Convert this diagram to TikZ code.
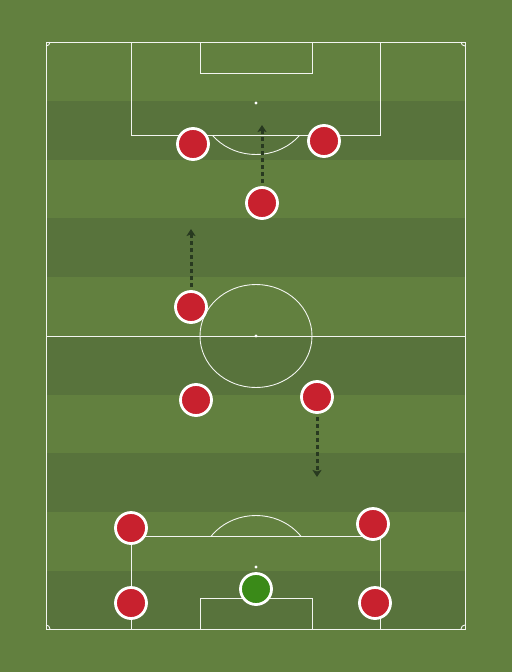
\documentclass[tikz,border=0pt]{standalone}
\usetikzlibrary{arrows.meta}
\definecolor{grassA}{HTML}{62803F}
\definecolor{grassB}{HTML}{58733C}
\definecolor{plred}{HTML}{C8212E}
\definecolor{plgreen}{HTML}{3A8A18}
\definecolor{arrowc}{HTML}{283A20}
\tikzset{
  line/.style={draw=white!92!grassA, line width=0.9pt},
  player/.style={circle, fill=plred, draw=white, line width=2.8pt, minimum size=31pt, inner sep=0pt},
  keeper/.style={player, fill=plgreen},
  runarrow/.style={draw=arrowc, line width=3pt, dash pattern=on 4pt off 3pt, -{Stealth[length=7pt,width=9pt,inset=1.5pt]}}
}
\begin{document}
\begin{tikzpicture}[x=1pt,y=-1pt]
\useasboundingbox (0,0) rectangle (512,672);
\fill[grassA] (0,0) rectangle (512,672);
% stripes
\foreach \t in {101,218.4,335.8,453.2,570.6}{
  \fill[grassB] (46,\t) rectangle (465,\t+58.7);
}
% outline
\draw[line] (46,42) rectangle (465,629);
\draw[line] (46,336) -- (465,336);
\draw[line] (256,336) ellipse (56 and 51.5);
\fill[white] (256,336) circle (1.6);
% top
\draw[line] (131,42) -- (131,135) -- (380,135) -- (380,42);
\draw[line] (200,42) -- (200,73) -- (312,73) -- (312,42);
\fill[white] (256,103) circle (1.6);
\begin{scope}
\clip (150,135) rectangle (360,200);
\draw[line] (256,103) ellipse (56 and 51.5);
\end{scope}
% bottom
\draw[line] (131,629) -- (131,536) -- (380,536) -- (380,629);
\draw[line] (200,629) -- (200,598) -- (312,598) -- (312,629);
\fill[white] (256,567) circle (1.6);
\begin{scope}
\clip (150,536) rectangle (360,470);
\draw[line] (256,567) ellipse (56 and 51.5);
\end{scope}
% corners
\draw[line] (46,46) arc[start angle=90,end angle=0,radius=4];
\draw[line] (461,42) arc[start angle=180,end angle=90,radius=4];
\draw[line] (46,625) arc[start angle=-90,end angle=0,radius=4];
\draw[line] (461,629) arc[start angle=180,end angle=270,radius=4];
% players
\node[player] (p1) at (193,144) {};
\node[player] (p2) at (324,141) {};
\node[player] (p3) at (262,203) {};
\node[player] (p4) at (191,307) {};
\node[player] (p5) at (196,400) {};
\node[player] (p6) at (317,397) {};
\node[player] (p7) at (131,528) {};
\node[player] (p8) at (373,524) {};
\node[player] (p9) at (131,603) {};
\node[player] (p10) at (375,603) {};
\node[keeper] (gk) at (256,589) {};
% runs
\coordinate (t3) at (262,125);
\coordinate (t4) at (191,229);
\coordinate (t6) at (317,477);
\draw[runarrow] (p3.north) ++(0,-3) -- (t3);
\draw[runarrow] (p4.north) ++(0,-3) -- (t4);
\draw[runarrow] (p6.south) ++(0,3) -- (t6);
\end{tikzpicture}
\end{document}
